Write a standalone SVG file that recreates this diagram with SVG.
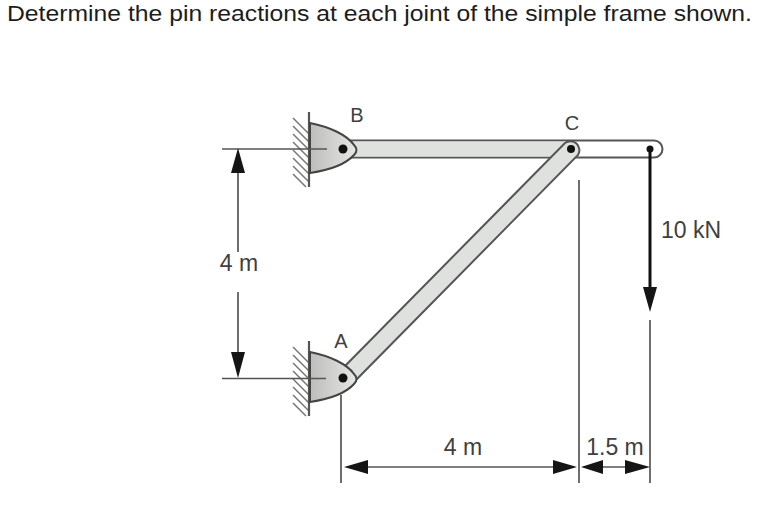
<svg xmlns="http://www.w3.org/2000/svg" width="770" height="518" viewBox="0 0 770 518">
<style>
.t{font-family:"Liberation Sans",Arial,sans-serif;fill:#404040}
.dim{stroke:#555;stroke-width:1.7;fill:none}
.mem{fill:#dfe1df;stroke:#555;stroke-width:2}
.sup{fill:url(#sg);stroke:#444;stroke-width:2}
.hatch{stroke:#777;stroke-width:1.5;fill:none}
.wall{stroke:#555;stroke-width:2.2;fill:none}
.head{fill:#151515}
</style>
<defs>
<linearGradient id="sg" x1="0" x2="1" y1="0" y2="0"><stop offset="0" stop-color="#bdbdbb"/><stop offset="1" stop-color="#e6e6e4"/></linearGradient>
<g id="wallh"><path class="hatch" d="M293 118l16 16M293 126l16 16M293 134l16 16M293 142l16 16M293 150l16 16M293 158l16 16M293 166l16 16M293 174l13 13"/><path class="wall" d="M309 112V187"/></g>
<path id="sup" class="sup" d="M310 123C330 127 347 135 354 145Q359 150 354 155C345 165 330 170 310 173Z"/>
</defs>
<text id="title" class="t" x="7" y="21" font-size="22.500" textLength="745" lengthAdjust="spacingAndGlyphs" style="fill:#1c1c1c">Determine the pin reactions at each joint of the simple frame shown.</text>
<g id="member-bc">
<path d="M350 140.500H654A8.500 8.500 0 0 1 654 157.500H350Z" fill="#fff" stroke="#555" stroke-width="2"/>
<path d="M350 141.500H566V156.500H350Z" fill="#dfe1df"/>
</g>
<g id="member-ac">
<path class="mem" d="M345 366L565 143A9 9 0 0 1 578 155L354 382Z"/>
<circle cx="571" cy="149" r="4" fill="#111"/>
</g>
<g id="support-b"><use href="#wallh"/><use href="#sup"/><circle cx="343" cy="149" r="4.500" fill="#111"/></g>
<g id="support-a"><use href="#wallh" y="229"/><use href="#sup" y="229"/><circle cx="343" cy="378" r="4.500" fill="#111"/></g>
<g id="connectors">
<path class="dim" d="M222 149H327M222 378.500H326M238 170V252M238 292V358M341 395V483M579 180V483M650 320V483M361 467H557M600 467H630"/>
<path class="head" d="M238 148L245 173H231ZM238 378L231 352H245ZM344 467L368 460V474ZM577 467L553 460V474ZM581 467L603 460V474ZM650 467L625 460V474Z"/>
</g>
<g id="load">
<path d="M650 149V290" stroke="#111" stroke-width="3" fill="none"/>
<circle cx="650" cy="149" r="3.500" fill="#111"/>
<path class="head" d="M650 312L643 287H657Z"/>
</g>
<g id="labels">
<text class="t" x="357" y="122" font-size="20" text-anchor="middle">B</text>
<text class="t" x="572" y="130" font-size="20" text-anchor="middle">C</text>
<text class="t" x="341" y="348" font-size="20" text-anchor="middle">A</text>
<text class="t" x="661" y="238" font-size="23">10 kN</text>
<text class="t" x="239" y="271" font-size="23" text-anchor="middle">4 m</text>
<text class="t" x="463" y="455" font-size="23" text-anchor="middle">4 m</text>
<text class="t" x="615" y="455" font-size="23" text-anchor="middle">1.5 m</text>
</g>
</svg>
